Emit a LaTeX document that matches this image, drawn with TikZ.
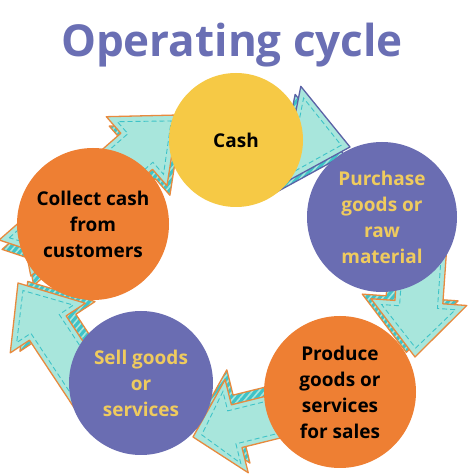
\documentclass[tikz,border=0pt]{standalone}
\usepackage{fontspec}
\setmainfont{Open Sans}
\usetikzlibrary{calc,patterns.meta}

\definecolor{titleblue}{HTML}{6A6FB4}
\definecolor{circpurple}{HTML}{6A6DB2}
\definecolor{cashyellow}{HTML}{F6C945}
\definecolor{circorange}{HTML}{EE7F33}
\definecolor{textyellow}{HTML}{EFCB5E}
\definecolor{mint}{HTML}{A8E6DC}
\definecolor{hatchteal}{HTML}{3EC3C8}
\definecolor{edgeorange}{HTML}{E88A3E}
\definecolor{edgepurple}{HTML}{5B62A6}

% block arrow from #1 to #2: shaft half width #3, head half width #4, head length #5, edge colour #6
\newcommand{\blockarrow}[6]{%
  \path let \p1=($(#2)-(#1)$) in \pgfextra{%
    \pgfmathparse{atan2(\y1,\x1)}\xdef\arrang{\pgfmathresult}%
    \pgfmathparse{veclen(\x1,\y1)}\xdef\arrlen{\pgfmathresult}};
  \begin{scope}[shift={(#1)},rotate=\arrang]
    \begin{scope}[shift={(-4,-9)}]
      \fill[hatchteal] (0,#3) -- (\arrlen-#5,#3) -- (\arrlen-#5,#4) -- (\arrlen,0) -- (\arrlen-#5,-#4) -- (\arrlen-#5,-#3) -- (0,-#3) -- (14,0) -- cycle;
      \fill[pattern={Lines[angle=50,distance=5pt,line width=1.6pt]},pattern color=mint] (0,#3) -- (\arrlen-#5,#3) -- (\arrlen-#5,#4) -- (\arrlen,0) -- (\arrlen-#5,-#4) -- (\arrlen-#5,-#3) -- (0,-#3) -- (14,0) -- cycle;
      \draw[#6,line width=1.3pt,line join=round] (0,#3) -- (\arrlen-#5,#3) -- (\arrlen-#5,#4) -- (\arrlen,0) -- (\arrlen-#5,-#4) -- (\arrlen-#5,-#3) -- (0,-#3) -- (14,0) -- cycle;
    \end{scope}
    \filldraw[fill=mint,draw=#6,line width=1.3pt,line join=round] (0,#3) -- (\arrlen-#5,#3) -- (\arrlen-#5,#4) -- (\arrlen,0) -- (\arrlen-#5,-#4) -- (\arrlen-#5,-#3) -- (0,-#3) -- (14,0) -- cycle;
    \draw[hatchteal,line width=0.9pt,dash pattern=on 5pt off 3pt] (9,#3-5) -- (\arrlen-#5+5,#3-5) -- (\arrlen-#5+5,#4-11) -- (\arrlen-9,0) -- (\arrlen-#5+5,-#4+11) -- (\arrlen-#5+5,-#3+5) -- (9,-#3+5) -- (21,0) -- cycle;
  \end{scope}
}

\begin{document}
\begin{tikzpicture}[x=1pt,y=1pt,
    stage/.style={circle,inner sep=0pt,align=center,font=\bfseries\fontsize{19}{26}\selectfont},
    title/.style={font=\bfseries\fontsize{44}{50}\selectfont,text=titleblue}]
  \fill[white] (0,0) rectangle (474,474);
  \useasboundingbox (0,0) rectangle (474,474);

  \node[title] (head) at (232,429) {Operating cycle};

  % arrow ends
  \coordinate (collecttail) at (15,216);
  \coordinate (collecttip) at (178,359);
  \coordinate (cashtail) at (203,356);
  \coordinate (cashtip) at (350,327);
  \coordinate (purchasetail) at (425,259);
  \coordinate (purchasetip) at (415,117);
  \coordinate (producetail) at (334,72);
  \coordinate (producetip) at (193,37);
  \coordinate (selltail) at (106,58);
  \coordinate (selltip) at (18,191);

  \blockarrow{collecttail}{collecttip}{24}{46}{55}{edgeorange}
  \blockarrow{cashtail}{cashtip}{22}{50}{60}{edgepurple}
  \blockarrow{purchasetail}{purchasetip}{24}{48}{55}{edgeorange}
  \blockarrow{producetail}{producetip}{22}{48}{45}{edgeorange}
  \blockarrow{selltail}{selltip}{22}{45}{54}{edgeorange}

  \node[stage,fill=cashyellow,minimum size=134pt] (cash) at (236,334) {Cash};
  \node[stage,fill=circpurple,text=textyellow,minimum size=150pt] (purchase) at (382,257) {Purchase\\goods or\\raw\\material};
  \node[stage,fill=circorange,minimum size=152pt] (produce) at (340,82) {Produce\\goods or\\services\\for sales};
  \node[stage,fill=circpurple,text=textyellow,minimum size=144pt] (sell) at (141,91) {Sell goods\\or\\services};
  \node[stage,fill=circorange,minimum size=152pt] (collect) at (93,250) {Collect cash\\from\\customers};
\end{tikzpicture}
\end{document}
